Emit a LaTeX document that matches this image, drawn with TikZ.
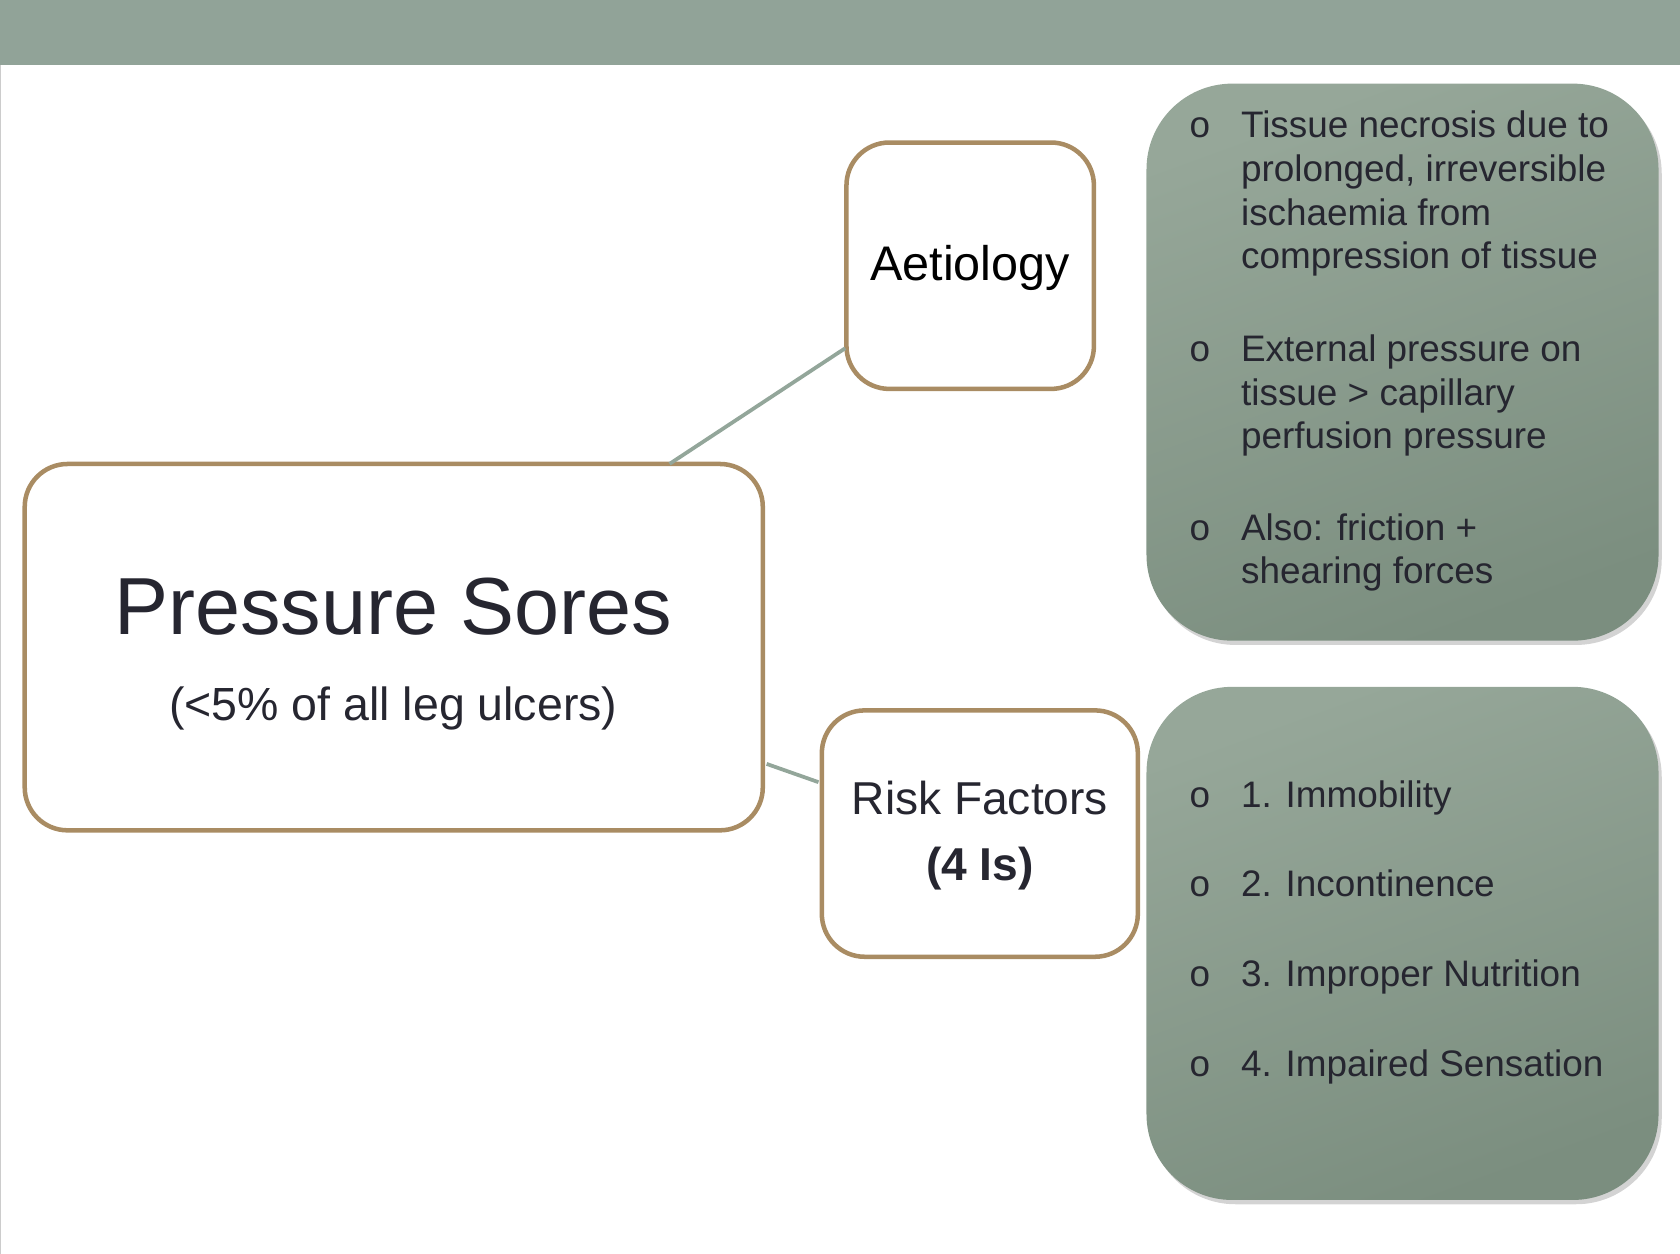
\documentclass[tikz,border=0pt]{standalone}
\usepackage{fontspec}
\setmainfont{Liberation Sans}
\usetikzlibrary{shadows}
\definecolor{bar}{HTML}{91A398}
\definecolor{tan}{HTML}{A98C63}
\definecolor{ink}{HTML}{262630}
\definecolor{gtop}{HTML}{96A799}
\definecolor{gbot}{HTML}{7B8E7F}
\definecolor{conn}{HTML}{93A69A}
\tikzset{
  whitebox/.style={draw=tan,line width=2.4pt,fill=white,rounded corners=0.8cm,inner sep=0pt},
  greenbox/.style={rounded corners=1.6cm,inner sep=0pt,top color=gtop,bottom color=gbot,shading angle=20,
    drop shadow={shadow xshift=0.06cm,shadow yshift=-0.08cm,opacity=0.35}},
  conline/.style={draw=conn,line width=2pt},
  btxt/.style={font=\fontsize{19.6}{23}\selectfont,text=ink,anchor=base west,inner sep=0pt},
}
\begin{document}
\begin{tikzpicture}[x=0.02cm,y=-0.02cm]
\useasboundingbox (0,0) rectangle (1568,1170);
\fill[bar] (0,0) rectangle (1568,61);
\draw[gray!40,line width=0.6pt] (0.3,61) -- (0.3,1170);
% nodes
\node[whitebox,minimum width=13.78cm,minimum height=6.84cm] (ps) at (367.5,604) {};
\node[whitebox,minimum width=4.62cm,minimum height=4.6cm] (ae) at (905.5,248) {};
\node[whitebox,minimum width=5.9cm,minimum height=4.6cm] (rf) at (914.5,778) {};
\node[greenbox,minimum width=9.56cm,minimum height=10.4cm] (g1) at (1309,338) {};
\node[greenbox,minimum width=9.56cm,minimum height=9.58cm] (g2) at (1309,880.5) {};
% connectors
\draw[conline] ([xshift=5.15cm,yshift=-0.04cm]ps.north) -- ([yshift=-1.54cm,xshift=0.02cm]ae.west);
\draw[conline] ([yshift=-2.18cm,xshift=0.03cm]ps.east) -- ([yshift=0.96cm,xshift=-0.02cm]rf.west);
% texts
\node[anchor=base,inner sep=0pt,text=ink,font=\fontsize{43}{50}\selectfont] (t1) at (367,592) {Pressure Sores};
\node[anchor=base,inner sep=0pt,text=ink,font=\fontsize{24.7}{30}\selectfont] (t2) at (367,672) {(<5\% of all leg ulcers)};
\node[anchor=base,inner sep=0pt,text=black,font=\fontsize{25.8}{30}\selectfont] (t3) at (905.5,262) {Aetiology};
\node[anchor=base,inner sep=0pt,text=ink,font=\fontsize{24.5}{30}\selectfont] (t4) at (914.5,760) {Risk Factors};
\node[anchor=base,inner sep=0pt,text=ink,font=\fontsize{24.5}{30}\bfseries\selectfont] (t5) at (914.5,822) {(4 Is)};
% bullets box 1
\foreach \y in {128,337,504} \node[btxt] at (1110,\y) {o};
\foreach \y/\t in {128/Tissue necrosis due to,169/{prolonged, irreversible},210/ischaemia from,251/compression of tissue,
  337/External pressure on,378/tissue > capillary,419/perfusion pressure,504/Also: friction +,545/shearing forces}
  \node[btxt] at (1158,\y) {\t};
% bullets box 2
\foreach \y/\t in {754/1. Immobility,837/2. Incontinence,921/3. Improper Nutrition,1005/4. Impaired Sensation}{
  \node[btxt] at (1110,\y) {o};
  \node[btxt] at (1158,\y) {\t};}
\end{tikzpicture}
\end{document}
